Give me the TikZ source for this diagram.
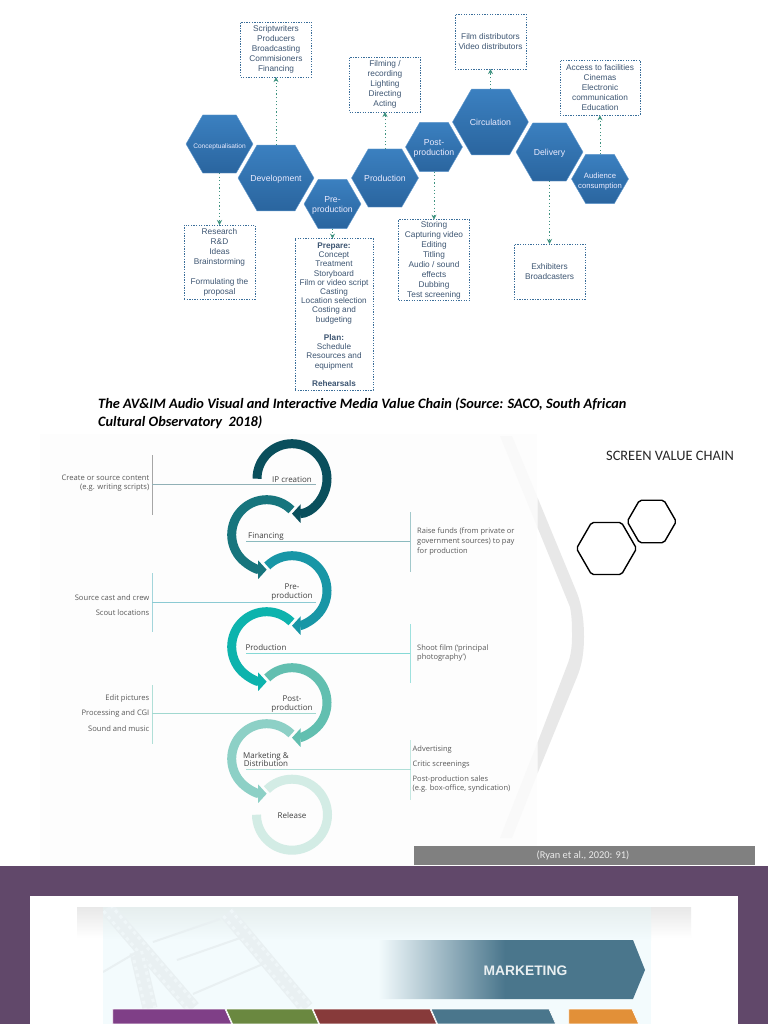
\documentclass[tikz,border=0pt]{standalone}
\usepackage{fontspec}
\setmainfont{Liberation Sans}
\newfontfamily\calfont{Carlito}
\newfontfamily\openfont{Open Sans}
\usepackage{tikz}
\usetikzlibrary{shapes,shapes.geometric,arrows.meta,positioning,calc}

\definecolor{hexlight}{HTML}{3B80C0}
\definecolor{hexmid}{HTML}{2E70AF}
\definecolor{hexdark}{HTML}{2A659F}
\definecolor{notetext}{HTML}{3D5572}
\definecolor{noteline}{HTML}{3A6E9A}
\definecolor{linkgreen}{HTML}{3D927F}
\definecolor{flowa}{HTML}{0A4F5C}
\definecolor{flowb}{HTML}{17757D}
\definecolor{flowc}{HTML}{1896A6}
\definecolor{flowd}{HTML}{0DB3AD}
\definecolor{flowe}{HTML}{62BFB0}
\definecolor{flowf}{HTML}{8DD0C6}
\definecolor{flowg}{HTML}{D3ECE5}
\definecolor{frameplum}{HTML}{61486A}
\definecolor{skyback}{HTML}{F3FBFD}
\definecolor{skytop}{HTML}{E6EEEE}
\definecolor{filmgrey}{HTML}{E9F0F2}
\definecolor{filmhole}{HTML}{EFF6F8}
\definecolor{mkblue}{HTML}{4A768C}
\definecolor{barpurple}{HTML}{7F3F87}
\definecolor{bargreen}{HTML}{6A8840}
\definecolor{barred}{HTML}{873A3A}
\definecolor{barorange}{HTML}{E29038}

% keeps the hexagon at its minimum size whatever the label
\newcommand{\hexlabel}[1]{\makebox[0pt]{\raisebox{-4.2pt}[0pt][0pt]{\begin{tabular}{@{}c@{}}#1\end{tabular}}}}

\begin{document}
\begin{tikzpicture}[
    x=1pt, y=1pt,
    node distance=68pt and 10pt,
    hex/.style={regular polygon, regular polygon sides=6, inner sep=0pt, outer sep=0pt, draw=hexlight!80, line width=0.4pt,
        top color=hexlight, middle color=hexmid, bottom color=hexdark, text=white!92!blue, align=center,
        font=\fontsize{8.7}{10}\selectfont},
    infobox/.style={rectangle, draw=noteline, line width=0.8pt, dash pattern=on 1.3pt off 1.3pt, inner sep=0pt, outer sep=0pt,
        minimum width=71pt, minimum height=55pt, align=center, text=notetext, font=\fontsize{8.3}{10}\selectfont},
    textdown/.style={execute at begin node={\rule{0pt}{9pt}}},
    linkarrow/.style={-{Stealth[length=5pt,width=5pt]}, linkgreen, line width=0.8pt, dash pattern=on 1.2pt off 2.4pt},
    outline_hex/.style={regular polygon, regular polygon sides=6, draw=black, line width=1.4pt, rounded corners=2pt, inner sep=0pt},
    flowarc/.style={line width=9pt, -{Triangle[length=8.5pt,width=18pt]}},
    stem/.style={line width=0.8pt},
    leftnote/.style={anchor=east, inner sep=0pt, text=black!65, align=right, font=\openfont\fontsize{7.6}{9.3}\selectfont},
    rightnote/.style={anchor=west, inner sep=0pt, text=black!65, align=left, font=\openfont\fontsize{7.5}{9.6}\selectfont},
    stage/.style={inner sep=0pt, text=black!75, align=center, font=\openfont\fontsize{8}{8.8}\selectfont},
    slidebar/.style={draw=white, line width=0.6pt},
    filmstrip/.pic={
        \draw[filmgrey, line width=15pt] (0,0) -- (#1,0);
        \draw[filmhole, line width=3pt, dash pattern=on 3.5pt off 3.5pt] (0,4.7) -- (#1,4.7);
        \draw[filmhole, line width=3pt, dash pattern=on 3.5pt off 3.5pt] (0,-4.7) -- (#1,-4.7);
    }
]
    \useasboundingbox (0,0) rectangle (768,-1024);
    \fill[white] (0,0) rectangle (768,-1024);

    % --- 1. Top chain ---
    \node[hex, minimum size=67pt, font=\fontsize{6.6}{8}\selectfont] (concept) at (219.5,-144) {\hexlabel{Conceptualisation}};
    \node[hex, minimum size=76pt] (dev) at (276,-178) {\hexlabel{Development}};
    \node[hex, minimum size=57pt] (preprod) at (332.5,-204) {\hexlabel{Pre-\\production}};
    \node[hex, minimum size=67pt] (prod) at (385,-178) {\hexlabel{Production}};
    \node[hex, minimum size=57pt] (postprod) at (434,-147) {\hexlabel{Post-\\production}};
    \node[hex, minimum size=76pt] (circ) at (490.5,-122) {\hexlabel{Circulation}};
    \node[hex, minimum size=67pt] (deliv) at (549.5,-152) {\hexlabel{Delivery}};
    \node[hex, minimum size=57pt, font=\fontsize{7.7}{10}\selectfont] (aud) at (600,-179) {\hexlabel{Audience\\consumption}};

    % boxes above the chain
    \node[infobox, textdown, above=68pt of dev] (scripts) {Scriptwriters\\Producers\\Broadcasting\\Commisioners\\Financing};
    \node[infobox, textdown, above=37pt of prod] (filming) {Filming /\\recording\\Lighting\\Directing\\Acting};
    \node[infobox, above=20pt of circ] (distrib) {Film distributors\\Video distributors};
    \node[infobox, textdown, above=39pt of aud, minimum width=80pt] (access) {Access to facilities\\Cinemas\\Electronic\\communication\\Education};

    % boxes below the chain
    \node[infobox, textdown, below=52pt of concept, minimum height=74pt] (research) {Research\\R\&D\\Ideas\\Brainstorming\\[10pt]Formulating the\\proposal};
    \node[infobox, below=10pt of preprod, xshift=1.5pt, minimum width=78pt, minimum height=152pt,
          font=\fontsize{8.2}{9.2}\selectfont] (prepare) {\textbf{Prepare:}\\Concept\\Treatment\\Storyboard\\Film or video script\\Casting\\Location selection\\Costing and\\budgeting\\[9.2pt]\textbf{Plan:}\\Schedule\\Resources and\\equipment\\[9.2pt]\textbf{Rehearsals}};
    \node[infobox, textdown, below=48pt of postprod, minimum height=81pt] (storing) {Storing\\Capturing video\\Editing\\Titling\\Audio / sound\\effects\\Dubbing\\Test screening};
    \node[infobox, below=63pt of deliv] (exhib) {Exhibiters\\Broadcasters};

    \draw[linkarrow] (dev) -- (scripts);
    \draw[linkarrow] (prod) -- (filming);
    \draw[linkarrow] (circ) -- (distrib);
    \draw[linkarrow] (aud) -- (access);
    \draw[linkarrow] (concept) -- (research);
    \draw[linkarrow] (preprod) -- (preprod |- prepare.north);
    \draw[linkarrow] (postprod) -- (storing);
    \draw[linkarrow] (deliv) -- (exhib);

    \node[anchor=north west, inner sep=0pt, text width=560pt, align=flush left, font=\calfont\bfseries\itshape\fontsize{14.35}{18}\selectfont] (caption) at (98,-398) {The AV\&IM Audio Visual and Interactive Media Value Chain (Source: SACO, South African\\Cultural Observatory\ \ 2018)};

    % --- 2. Screen value chain ---
    \fill[black!0.6] (40,-434) rectangle (537,-866);
    \fill[black!2.5] (500,-436) -- (512,-436) -- (537.7,-498) -- (537.7,-528) -- cycle;
    \fill[black!2.5] (500,-838) -- (512,-838) -- (537.7,-773) -- (537.7,-742) -- cycle;
    \fill[black!9] (537.7,-498) -- (577,-593) .. controls (582,-606) and (584,-620) .. (584,-637)
        .. controls (584,-652) and (582,-665) .. (577,-677) -- (537.7,-773) -- (537.7,-742)
        -- (568,-663) .. controls (571,-655) and (572,-646) .. (572,-637)
        .. controls (572,-626) and (572,-617) .. (570,-607) -- (537.7,-528) -- cycle;

    \coordinate (ipc) at (292,-478.7);
    \coordinate (finc) at (266.7,-534.7);
    \coordinate (prec) at (292,-590.7);
    \coordinate (prodc) at (266.7,-646.7);
    \coordinate (postc) at (292,-702.7);
    \coordinate (markc) at (266.7,-758.7);
    \coordinate (relc) at (292,-814.7);

    % leader lines
    \coordinate (ipstema) at (152,-455);
    \coordinate (ipstemb) at (152,-515);
    \coordinate (ipend) at (316,-484);
    \draw[stem, black!35] (ipstema) -- (ipstemb);
    \draw[stem, flowa!45] (ipstema |- ipend) -- (ipend);
    \coordinate (finstema) at (410,-512);
    \coordinate (finstemb) at (410,-572);
    \coordinate (finend) at (246,-541.7);
    \draw[stem, flowb!40] (finstema) -- (finstemb);
    \draw[stem, flowb!50] (finstema |- finend) -- (finend);
    \coordinate (prestema) at (152,-573);
    \coordinate (prestemb) at (152,-632);
    \coordinate (preend) at (316,-602);
    \draw[stem, flowc!40] (prestema) -- (prestemb);
    \draw[stem, flowc!50] (prestema |- preend) -- (preend);
    \coordinate (prodstema) at (410,-624);
    \coordinate (prodstemb) at (410,-683);
    \coordinate (prodend) at (246,-653);
    \draw[stem, flowd!40] (prodstema) -- (prodstemb);
    \draw[stem, flowd!50] (prodstema |- prodend) -- (prodend);
    \coordinate (poststema) at (152,-685);
    \coordinate (poststemb) at (152,-744);
    \coordinate (postend) at (316,-713.7);
    \draw[stem, flowe!50] (poststema) -- (poststemb);
    \draw[stem, flowe!60] (poststema |- postend) -- (postend);
    \coordinate (markstema) at (410.5,-740);
    \coordinate (markstemb) at (410.5,-800);
    \coordinate (markend) at (246,-769);
    \draw[stem, flowf!50] (markstema) -- (markstemb);
    \draw[stem, flowf!70] (markstema |- markend) -- (markend);

    % circular arrows
    \draw[flowarc, flowa] ([shift={(180:35)}]ipc) arc[start angle=180, end angle=-90, radius=35];
    \draw[flowarc, flowb] ([shift={(45:35)}]finc) arc[start angle=45, end angle=270, radius=35];
    \draw[flowarc, flowc] ([shift={(135:35)}]prec) arc[start angle=135, end angle=-90, radius=35];
    \draw[flowarc, flowd] ([shift={(45:35)}]prodc) arc[start angle=45, end angle=270, radius=35];
    \draw[flowarc, flowe] ([shift={(135:35)}]postc) arc[start angle=135, end angle=-90, radius=35];
    \draw[flowarc, flowf] ([shift={(45:35)}]markc) arc[start angle=45, end angle=270, radius=35];
    \draw[line width=9pt, flowg] ([shift={(135:35.5)}]relc) arc[start angle=135, end angle=-180, radius=35.5];

    % stage names
    \node[stage] (ipname) at (292,-479.7) {IP creation};
    \node[stage] (finname) at (266,-536.5) {Financing};
    \node[stage] (prename) at (292,-592.3) {Pre-\\production};
    \node[stage] (prodname) at (266,-647) {Production};
    \node[stage] (postname) at (292,-704) {Post-\\production};
    \node[stage] (markname) at (266,-759.5) {Marketing \&\\Distribution};
    \node[stage] (relname) at (292,-815) {Release};

    % notes on the left and right
    \node[leftnote] (srcnote) at (149.5,-483.5) {Create or source content\\(e.g. writing scripts)};
    \node[leftnote] (castnote) at (149.5,-598) {Source cast and crew};
    \node[leftnote] (scoutnote) at (149.5,-613) {Scout locations};
    \node[leftnote] (editnote) at (149.5,-699) {Edit pictures};
    \node[leftnote] (cginote) at (149.5,-714) {Processing and CGI};
    \node[leftnote] (soundnote) at (149.5,-728.5) {Sound and music};
    \node[rightnote] (fundnote) at (417,-541.5) {Raise funds (from private or\\government sources) to pay\\for production};
    \node[rightnote] (shootnote) at (417,-653) {Shoot film (‘principal\\photography’)};
    \node[rightnote] (adnote) at (412.5,-750) {Advertising};
    \node[rightnote] (criticnote) at (412.5,-765) {Critic screenings};
    \node[rightnote] (salesnote) at (412.5,-784) {Post-production sales\\(e.g. box-office, syndication)};

    \node[font=\calfont\fontsize{14.4}{16}\selectfont, text=black!85, inner sep=0pt] (chainname) at (670,-456) {SCREEN VALUE CHAIN};
    \node[outline_hex, minimum size=60pt] (bighex) at (606.5,-548.5) {};
    \node[outline_hex, minimum size=49pt] (smallhex) at (651.7,-521.5) {};

    \fill[black!50] (413.5,-846) rectangle (755,-865);
    \node[font=\calfont\fontsize{10.4}{12}\selectfont, text=black!8, inner sep=0pt] (source) at (583,-855.5) {(Ryan et al., 2020: 91)};

    % --- 3. Framed slide ---
    \fill[frameplum] (0,-866) rectangle (768,-1024);
    \fill[white] (29.5,-896) rectangle (738,-1024);
    \shade[top color=black!9, bottom color=white] (77,-907) rectangle (691,-938);
    \fill[skyback] (103,-940) rectangle (651,-1024);
    \shade[top color=skytop, bottom color=skyback] (103,-907) rectangle (651,-940);

    \begin{scope}
        \clip (103,-907) rectangle (651,-1024);
        \pic[rotate=-49.3] at (107,-908) {filmstrip=132};
        \pic[rotate=-50] at (227,-913) {filmstrip=124};
        \pic[rotate=-77] at (137,-952) {filmstrip=58};
        \draw[filmgrey, line width=2pt] (153,-942) -- (220,-919);
        \draw[filmgrey, line width=2pt] (177,-960) -- (243,-937);
        \draw[filmgrey, line width=2pt] (103,-972) -- (137,-952);
        \draw[filmgrey, line width=2pt] (193,-994) -- (270,-961);
    \end{scope}

    \begin{scope}
        \clip (378,-940) -- (633,-940) -- (645,-970) -- (633,-999) -- (378,-999) -- cycle;
        \shade[left color=skyback, right color=mkblue] (378,-930) rectangle (505,-1010);
        \fill[mkblue] (504.5,-930) rectangle (650,-1010);
    \end{scope}
    \node[font=\bfseries\fontsize{13.8}{16}\selectfont, text=white!88!mkblue, inner sep=0pt] (marketing) at (525.5,-970.5) {MARKETING};

    \fill[slidebar, fill=barpurple] (112.7,-1009) -- (225,-1009) -- (231.7,-1024) -- (112.7,-1024) -- cycle;
    \fill[slidebar, fill=bargreen] (226,-1009) -- (312,-1009) -- (318.7,-1024) -- (232.7,-1024) -- cycle;
    \fill[slidebar, fill=barred] (313,-1009) -- (430,-1009) -- (436.7,-1024) -- (319.7,-1024) -- cycle;
    \fill[slidebar, fill=mkblue] (431,-1009) -- (549,-1009) -- (555.7,-1024) -- (437.7,-1024) -- cycle;
    \fill[slidebar, fill=barorange] (568.7,-1009) -- (632,-1009) -- (638.7,-1024) -- (568.7,-1024) -- cycle;

\end{tikzpicture}
\end{document}
